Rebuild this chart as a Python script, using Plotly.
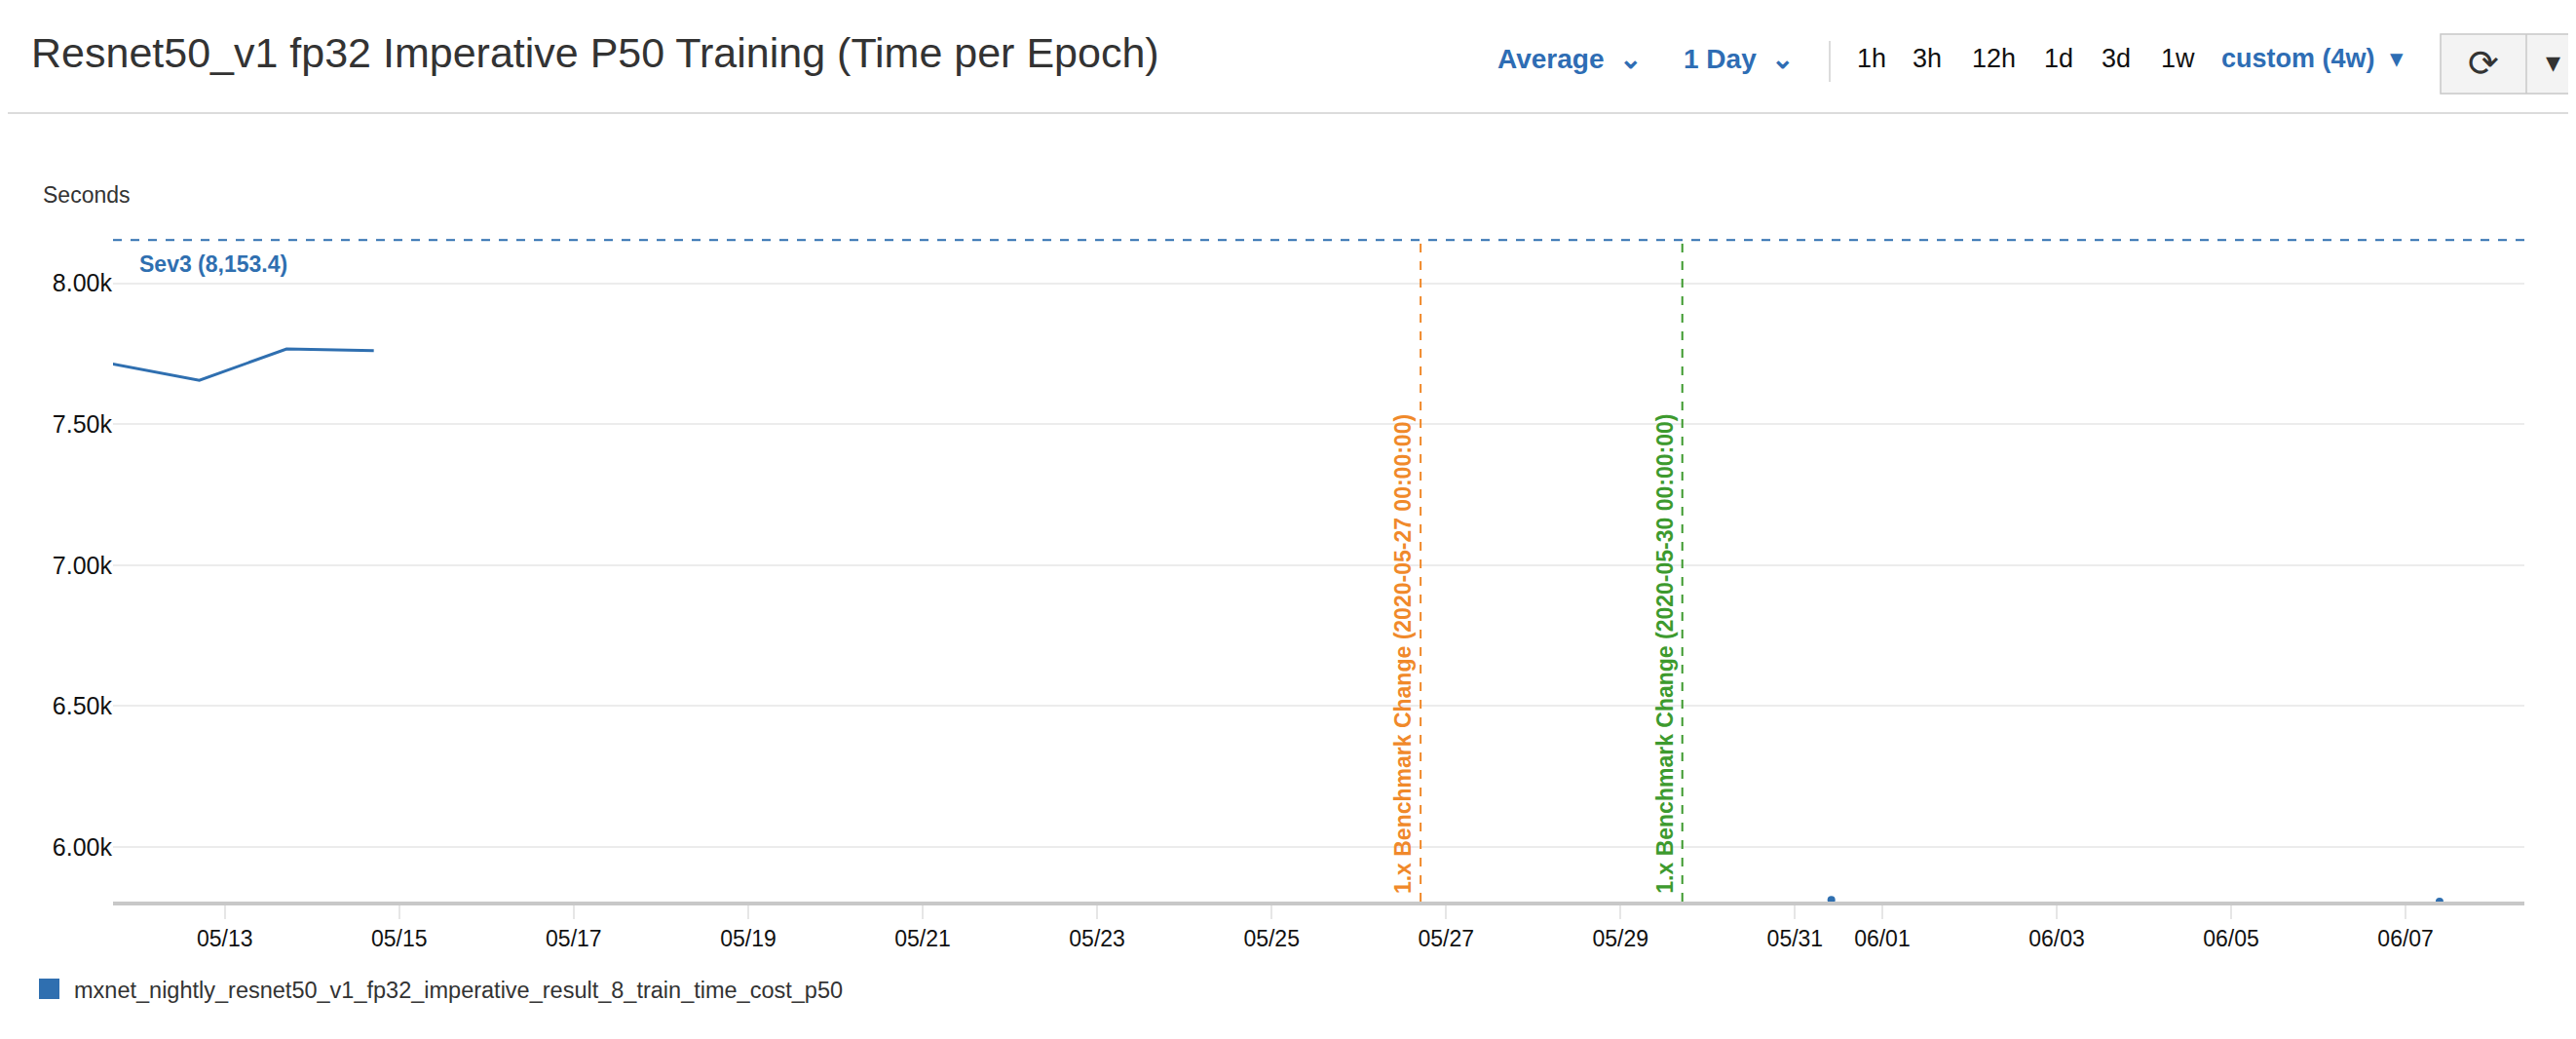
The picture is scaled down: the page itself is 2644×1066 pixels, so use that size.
import plotly.graph_objects as go

W, H = 2644, 1066
L, R, T, B = 108, 61, 235, 149

line_x = ["2020-05-11 17:00", "2020-05-12 17:00", "2020-05-13 17:00", "2020-05-14 17:00"]
line_y = [7714, 7656, 7767, 7761]
dot_x = ["2020-05-31 10:00", "2020-06-07 09:20"]
dot_y = [5812, 5806]
sev3 = 8153.4
changes = ["2020-05-26 17:00", "2020-05-29 17:00"]
change_labels = ["1.x Benchmark Change (2020-05-27 00:00:00)", "1.x Benchmark Change (2020-05-30 00:00:00)"]
change_colors = ["#f0892a", "#3d9a2e"]
tick_vals = ["2020-05-13", "2020-05-15", "2020-05-17", "2020-05-19", "2020-05-21", "2020-05-23",
             "2020-05-25", "2020-05-27", "2020-05-29", "2020-05-31", "2020-06-01", "2020-06-03",
             "2020-06-05", "2020-06-07"]
tick_text = [v[5:].replace("-", "/") for v in tick_vals]
y_ticks = [6000, 6500, 7000, 7500, 8000]
y_text = ["6.00k", "6.50k", "7.00k", "7.50k", "8.00k"]

BLUE = "#2f6fb0"
FONT = "Liberation Sans, Arial, sans-serif"


def px(x, y):
    # pixel -> paper coords
    return (x - L) / (W - L - R), 1 - (y - T) / (H - T - B)


fig = go.Figure()
fig.add_trace(go.Scatter(x=line_x, y=line_y, mode="lines", line=dict(color=BLUE, width=3),
                         showlegend=False, cliponaxis=False))
fig.add_trace(go.Scatter(x=dot_x, y=dot_y, mode="markers", marker=dict(color=BLUE, size=8),
                         showlegend=False, cliponaxis=False))

fig.add_hline(y=sev3, line=dict(color=BLUE, width=2, dash="dash"))
for d, c in zip(changes, change_colors):
    fig.add_vline(x=d, line=dict(color=c, width=2, dash="dash"))

anns = []
for d, t, c in zip(changes, change_labels, change_colors):
    anns.append(dict(x=d, y=5806, xref="x", yref="y", text="<b>" + t + "</b>", textangle=-90,
                     showarrow=False, xanchor="right", yanchor="bottom", xshift=-3, yshift=6,
                     font=dict(color=c, size=23, family=FONT)))
x0, y0 = px(133, 263)
anns.append(dict(x=x0, y=y0, xref="paper", yref="paper", text="<b>Sev3 (8,153.4)</b>", showarrow=False,
                 xanchor="left", yanchor="middle", font=dict(color=BLUE, size=23, family=FONT)))


def add_text(x, y, text, color="#222", size=26, anchor="left"):
    ax, ay = px(x, y)
    anns.append(dict(x=ax, y=ay, xref="paper", yref="paper", text=text, showarrow=False,
                     xanchor=anchor, yanchor="middle", font=dict(color=color, size=size, family=FONT)))


add_text(22, 46, "Resnet50_v1 fp32 Imperative P50 Training (Time per Epoch)", "#333", 43)
add_text(34, 192, "Seconds", "#333", 23)
add_text(1527, 52, "<b>Average  ⌄</b>", "#2e6db4", 28)
add_text(1718, 52, "<b>1 Day  ⌄</b>", "#2e6db4", 28)
for lab, x in zip(["1h", "3h", "12h", "1d", "3d", "1w"], [1896, 1953, 2014, 2088, 2147, 2208]):
    add_text(x, 52, lab, "#111", 27)
add_text(2270, 52, "<b>custom (4w)</b>  ▾", "#2e6db4", 27)
add_text(66, 1008, "mxnet_nightly_resnet50_v1_fp32_imperative_result_8_train_time_cost_p50", "#333", 23.5)
add_text(2541, 57, "⟳", "#333", 38, "center")
add_text(2612, 55, "▾", "#333", 30, "center")

shapes = []


def rect(x1, y1, x2, y2, **kw):
    a, b = px(x1, y2)
    c, d = px(x2, y1)
    shapes.append(dict(type="rect", xref="paper", yref="paper", x0=a, y0=b, x1=c, y1=d, **kw))


def seg(x1, y1, x2, y2, color, width):
    a, b = px(x1, y1)
    c, d = px(x2, y2)
    shapes.append(dict(type="line", xref="paper", yref="paper", x0=a, y0=b, x1=c, y1=d,
                       line=dict(color=color, width=width)))


seg(0, 108, W, 108, "#dcdcdc", 2)
seg(1870, 34, 1870, 76, "#d0d0d0", 1.5)
rect(2497, 27, 2639, 88, line=dict(color="#c8c8c8", width=1.5), fillcolor="#f3f3f3")
seg(2585, 27, 2585, 88, "#c8c8c8", 1.5)
rect(40, 996, 61, 1017, line=dict(width=0), fillcolor=BLUE)
shapes[-1].update(x0=px(32, 0)[0], x1=px(53, 0)[0])
for s in shapes:
    fig.add_shape(s)

fig.update_layout(
    width=W, height=H, margin=dict(l=L, r=R, t=T, b=B),
    plot_bgcolor="white", paper_bgcolor="white",
    annotations=list(fig.layout.annotations) + anns,
    font=dict(family=FONT, color="#111", size=22),
)
fig.update_xaxes(range=["2020-05-11 17:15", "2020-06-08 08:40"], tickvals=tick_vals, ticktext=tick_text,
                 showgrid=False, showline=True, linecolor="#c8c8c8", linewidth=4, ticks="outside",
                 ticklen=14, tickcolor="#e6e6e6", tickwidth=2, tickfont=dict(size=23), zeroline=False)
fig.update_yaxes(range=[5806, 8165], tickvals=y_ticks, ticktext=y_text, showgrid=True,
                 gridcolor="#ececec", gridwidth=2, zeroline=False, tickfont=dict(size=25), ticks="")

fig.write_html("out.html")
